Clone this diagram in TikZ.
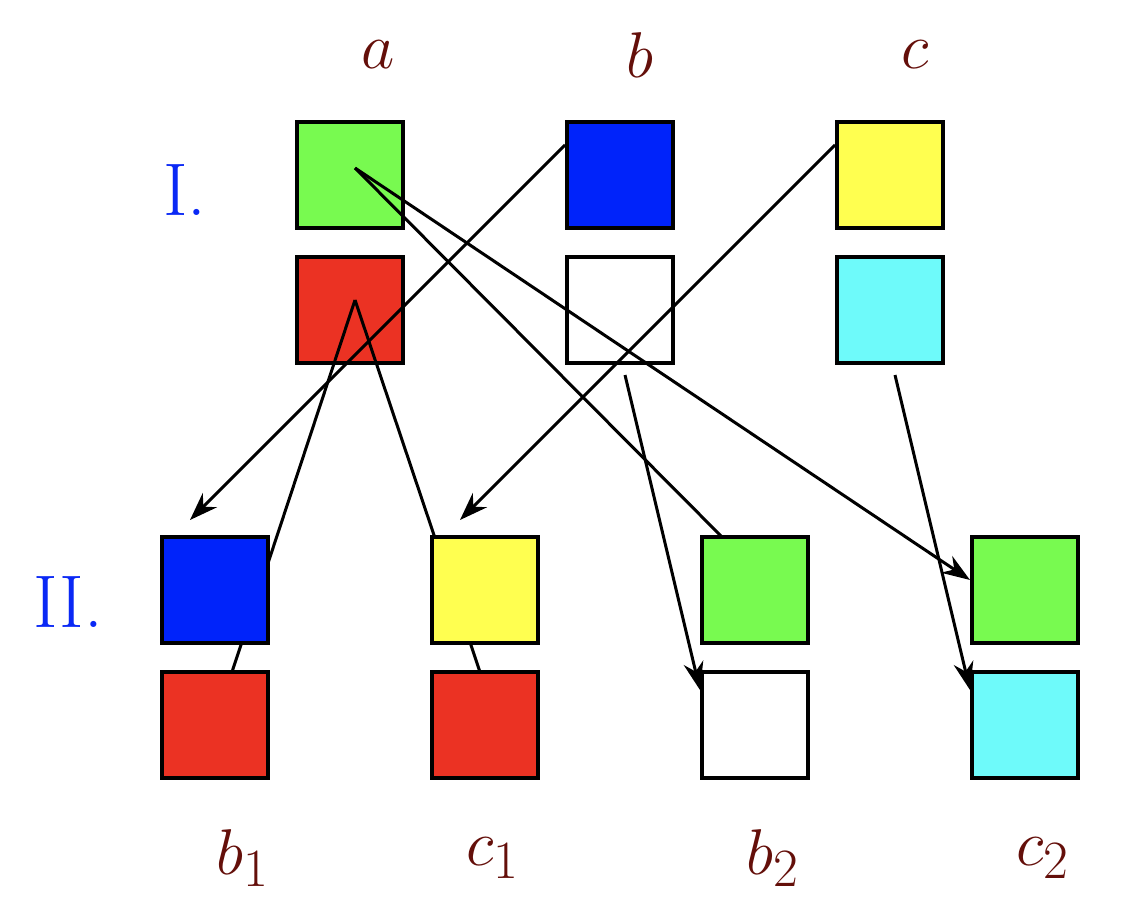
\documentclass[tikz,border=0pt]{standalone}
\usetikzlibrary{arrows.meta}
\definecolor{lab}{RGB}{100,15,10}
\definecolor{rom}{RGB}{10,40,245}
\definecolor{gr}{RGB}{120,250,80}
\definecolor{rd}{RGB}{235,50,35}
\definecolor{bl}{RGB}{0,35,250}
\definecolor{ye}{RGB}{255,255,80}
\definecolor{cy}{RGB}{110,250,250}
\begin{document}
\begin{tikzpicture}[x=1pt,y=-1pt,
 sq/.style={draw=black,line width=4pt,minimum size=106pt,inner sep=0pt,anchor=north west},
 ln/.style={line width=3pt},
 ar/.style={ln,-{Stealth[length=28pt,width=20pt]}},
 ml/.style={text=lab,font=\Huge,scale=2.6},
 rl/.style={text=rom,font=\Huge,scale=3.0}]
\useasboundingbox (0,0) rectangle (1122,912);
\node[sq,fill=gr] (ga) at (295,120) {};
\node[sq,fill=rd] (ra) at (295,255) {};
\node[sq,fill=bl] (bb) at (565,120) {};
\node[sq,fill=white] (wb) at (565,255) {};
\node[sq,fill=ye] (yc) at (835,120) {};
\node[sq,fill=cy] (cc) at (835,255) {};
\coordinate (rap) at (355,300);
\coordinate (e1) at (232,672);
\coordinate (e2) at (480,672);
\draw[ln] (rap) -- (e1);
\draw[ln] (rap) -- (e2);
\node[sq,fill=bl] (b1) at (160,535) {};
\node[sq,fill=rd] (r1) at (160,670) {};
\node[sq,fill=ye] (y1) at (430,535) {};
\node[sq,fill=rd] (r2) at (430,670) {};
\node[sq,fill=gr] (g2) at (700,535) {};
\node[sq,fill=white] (w2) at (700,670) {};
\node[sq,fill=gr] (g3) at (970,535) {};
\node[sq,fill=cy] (c3) at (970,670) {};
\coordinate (gac) at (355,168);
\draw[ar] (565,145) -- (190,520);
\draw[ar] (835,145) -- (460,520);
\draw[ln] (gac) -- (722,537);
\draw[ar] (gac) -- (970,580);
\draw[ar] (625,375) -- (700,690);
\draw[ar] (895,375) -- (970,690);
\node[ml] (la) at (378,55) {$a$};
\node[ml] (lb) at (640,55) {$b$};
\node[ml] (lc) at (915,55) {$c$};
\node[ml] (l1) at (243,858) {$b_1$};
\node[ml] (l2) at (493,858) {$c_1$};
\node[ml] (l3) at (773,858) {$b_2$};
\node[ml] (l4) at (1043,858) {$c_2$};
\node[rl] (r1l) at (185,190) {I.};
\node[rl] (r2l) at (68,602) {II.};
\end{tikzpicture}
\end{document}
